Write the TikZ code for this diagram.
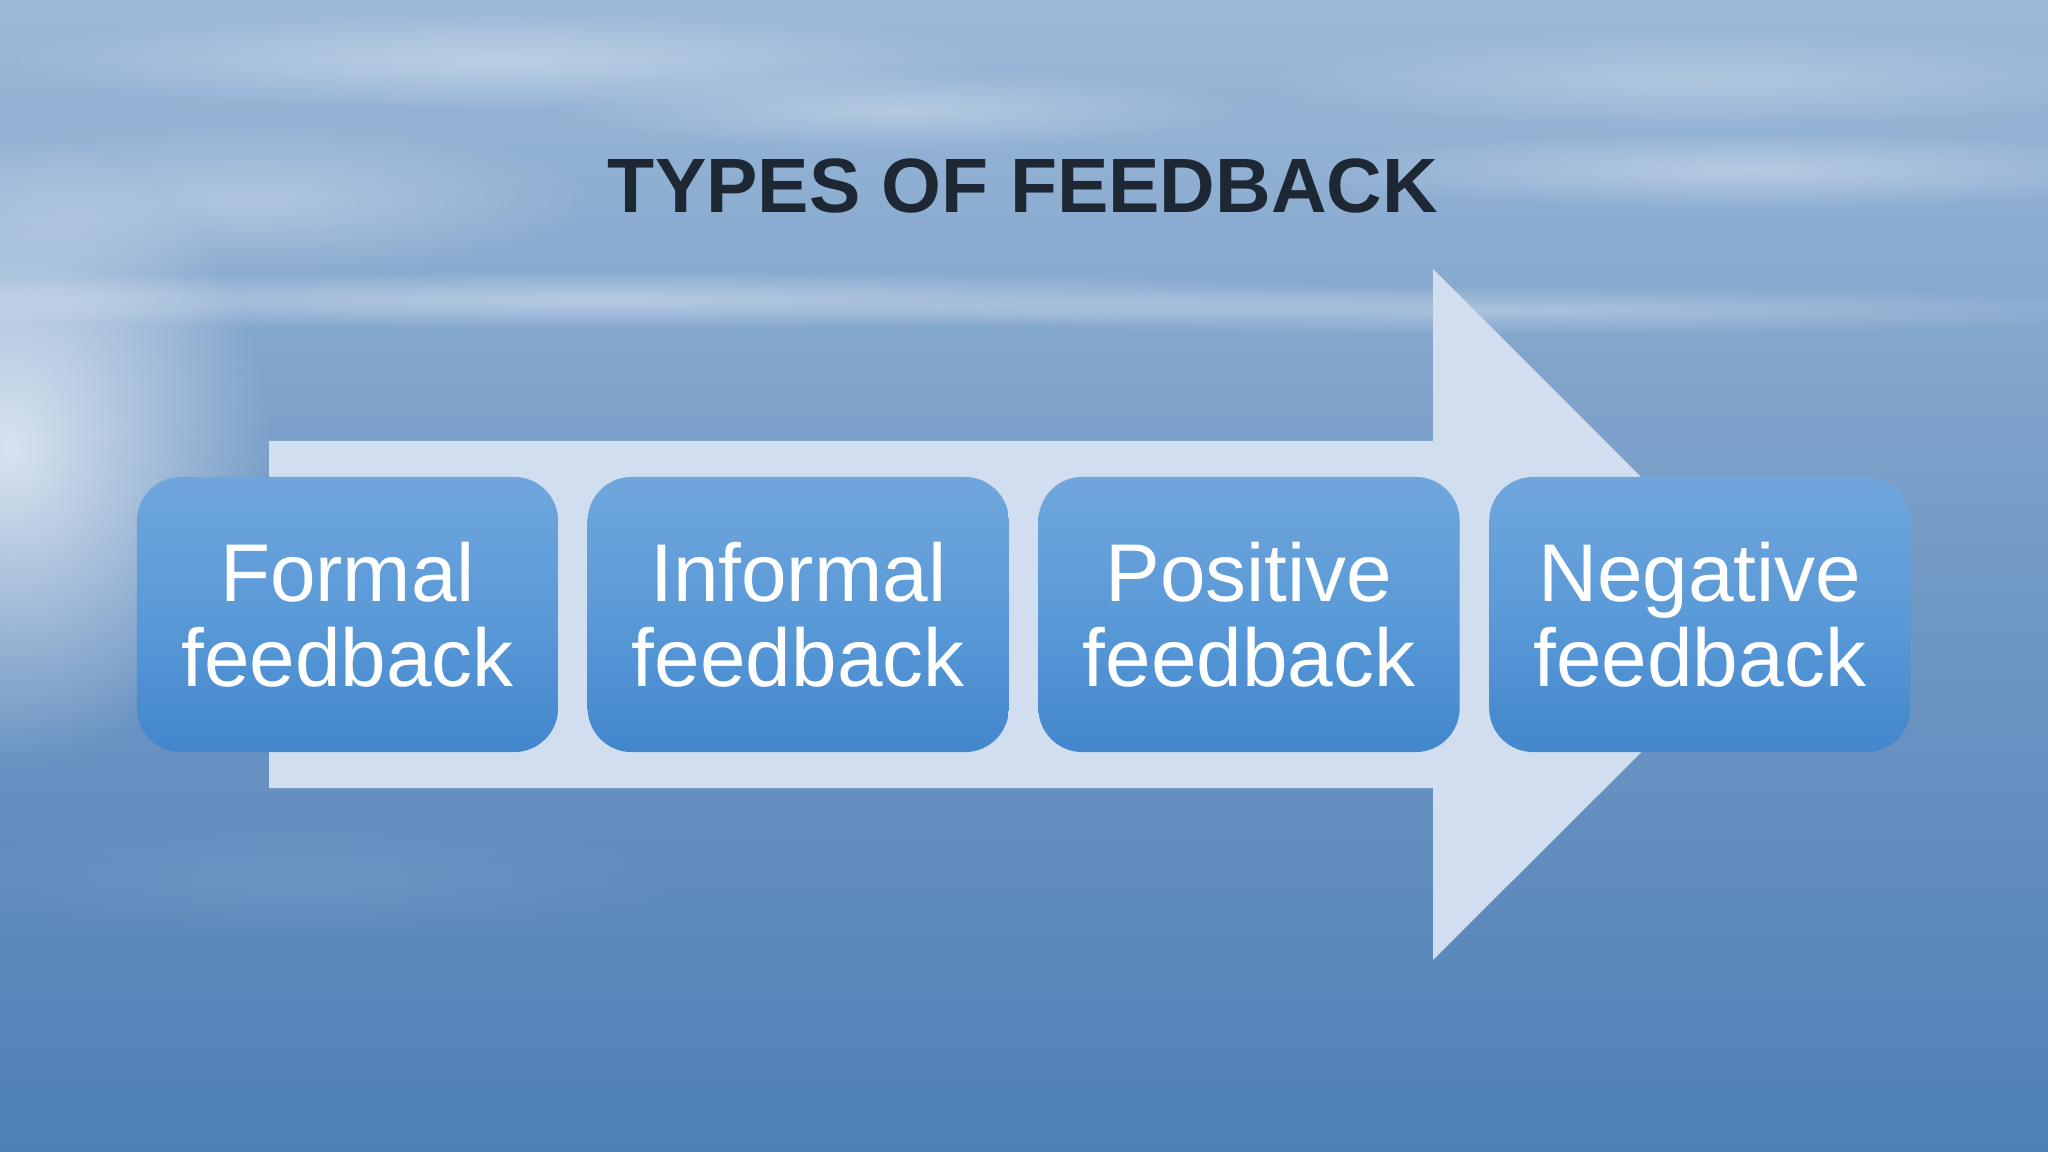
\documentclass[tikz,border=0pt]{standalone}
\usepackage{fontspec}
\setmainfont{Liberation Sans}
\usepackage{tikz}
\usetikzlibrary{positioning,fadings}
\definecolor{skytop}{RGB}{156,185,216}
\definecolor{skymid}{RGB}{114,153,197}
\definecolor{skybot}{RGB}{78,128,182}
\definecolor{arrowfill}{RGB}{208,222,239}
\definecolor{boxtop}{RGB}{112,166,220}
\definecolor{boxmid}{RGB}{90,154,216}
\definecolor{boxbot}{RGB}{66,134,204}
\definecolor{titledark}{RGB}{30,40,52}
\tikzfading[name=softglow, inner color=transparent!0, outer color=transparent!100]

\begin{document}
\begin{tikzpicture}[x=0.01cm, y=-0.01cm]
  \tikzstyle{fbbox} = [rectangle, rounded corners=0.44cm, minimum width=4.21cm, minimum height=2.75cm, inner sep=0pt, outer sep=0pt, top color=boxtop, bottom color=boxbot, middle color=boxmid, text=white, align=center, font=\fontsize{23.3pt}{24.2pt}\selectfont]
  \tikzstyle{streak} = [white, path fading=softglow]

  % sky
  \shade[top color=skytop, bottom color=skybot, middle color=skymid] (0,0) rectangle (2048,1152);
  \useasboundingbox (0,0) rectangle (2048,1152);
  \foreach \cx/\cy/\rx/\ry/\op in {500/60/5/0.5/0.35, 900/110/3.5/0.4/0.3, 1700/80/4.5/0.5/0.25,
      1750/170/4.5/0.4/0.35, 600/300/9/0.3/0.4, 1500/310/7/0.25/0.3, 250/200/3.5/0.8/0.3,
      300/880/4/0.6/0.08, 10/450/2.6/3.2/0.7}
    \fill[streak, opacity=\op] (\cx,\cy) ellipse [x radius=\rx cm, y radius=\ry cm];

  \node[font=\fontsize{21.9pt}{24pt}\selectfont\bfseries, text=titledark, anchor=base] (title) at (1023,213) {TYPES OF FEEDBACK};

  % big arrow behind the boxes
  \coordinate (tip) at (1779,615);
  \fill[arrowfill] (269,441) -- (1433,441) -- (1433,269) -- (tip) -- (1433,960) -- (1433,788) -- (269,788) -- cycle;

  \node[fbbox] (formal) at (347.5,614.5) {Formal\\feedback};
  \node[fbbox, right=0.295cm of formal] (informal) {Informal\\feedback};
  \node[fbbox, right=0.295cm of informal] (positive) {Positive\\feedback};
  \node[fbbox, right=0.295cm of positive] (negative) {Negative\\feedback};
\end{tikzpicture}
\end{document}
